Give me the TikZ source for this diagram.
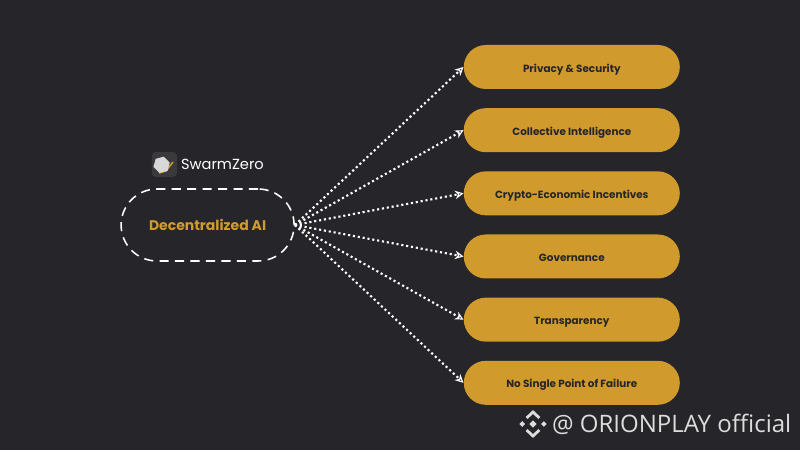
\documentclass[tikz,border=0pt]{standalone}
\usepackage{xcolor}
\usepackage{fontspec}
\setmainfont{Poppins}
\newfontfamily\markfont{Open Sans}
\usetikzlibrary{arrows.meta,positioning,shapes.geometric}
\definecolor{pagefill}{HTML}{26262A}
\definecolor{pillfill}{HTML}{D09A2D}
\definecolor{pilltext}{HTML}{26262A}
\definecolor{logofill}{HTML}{3A3A3C}
\definecolor{rockfill}{HTML}{D8D8D8}
\definecolor{marktext}{HTML}{DCDCDC}

\begin{document}
\begin{tikzpicture}[
  pill/.style={rounded corners=0.55cm, minimum width=5.4cm, minimum height=1.1cm, align=center, text height=8.4pt, text depth=1.2pt, font=\fontsize{7.4}{9}\selectfont\bfseries, fill=pillfill, text=pilltext},
  source/.style={draw=white, dashed, dash pattern=on 6.5pt off 4.5pt, line width=1.1pt, rounded corners=0.9cm, minimum width=4.325cm, minimum height=1.8cm, font=\fontsize{9.95}{11}\selectfont\bfseries, text=pillfill},
  flow/.style={draw=white, dotted, line width=1.5pt, -{Stealth[length=6pt, width=6pt, open, line width=0.8pt, sep=0pt]}},
  brand/.style={text=white, inner sep=0pt, font=\fontsize{10.4}{13}\selectfont},
]
  \fill[pagefill] (0,0) rectangle (20,11.25);
  \useasboundingbox (0,0) rectangle (20,11.25);

  \node[source] (dai) at (5.19,5.625) {Decentralized AI};

  \node[pill] (privacy) at (14.295,9.575) {Privacy \& Security};
  \node[pill, below=0.465cm of privacy] (collective) {Collective Intelligence};
  \node[pill, below=0.465cm of collective] (crypto) {Crypto-Economic Incentives};
  \node[pill, below=0.465cm of crypto] (governance) {Governance};
  \node[pill, below=0.465cm of governance] (transparency) {Transparency};
  \node[pill, below=0.465cm of transparency] (failure) {No Single Point of Failure};

  \foreach \target in {privacy,collective,crypto,governance,transparency,failure}
    \draw[flow] (dai.east) -- (\target.west);

  % logo above the dashed box
  \node[fill=logofill, rounded corners=3pt, minimum size=0.63cm, inner sep=0pt] (logo) at (4.11,7.14) {};
  \draw[pillfill, line width=1.1pt] (3.975,6.925) -- (4.15,6.975) -- (4.325,7.2);
  \node[fill=rockfill, regular polygon, regular polygon sides=6, minimum size=0.42cm, inner sep=0pt, rotate=15] (rock) at (4.04,7.13) {};
  \node[brand, anchor=west] (swarm) at (4.52,7.14) {SwarmZero};

  % watermark, lower right
  \node[anchor=east, text=marktext, inner sep=0pt, font=\markfont\fontsize{17.1}{20}\selectfont] (orion) at (19.79,0.65) {@ ORIONPLAY official};
  \foreach \dx in {-0.27,0.27}
    \fill[marktext] (13.325+\dx,0.72) -- ++(0.07,-0.07) -- ++(-0.07,-0.07) -- ++(-0.07,0.07) -- cycle;
  \fill[marktext] (13.325,0.74) -- ++(0.09,-0.09) -- ++(-0.09,-0.09) -- ++(-0.09,0.09) -- cycle;
  \draw[marktext, line width=2pt] (13.165,0.8) -- (13.325,0.95) -- (13.485,0.8);
  \draw[marktext, line width=2pt] (13.165,0.5) -- (13.325,0.35) -- (13.485,0.5);
\end{tikzpicture}
\end{document}
